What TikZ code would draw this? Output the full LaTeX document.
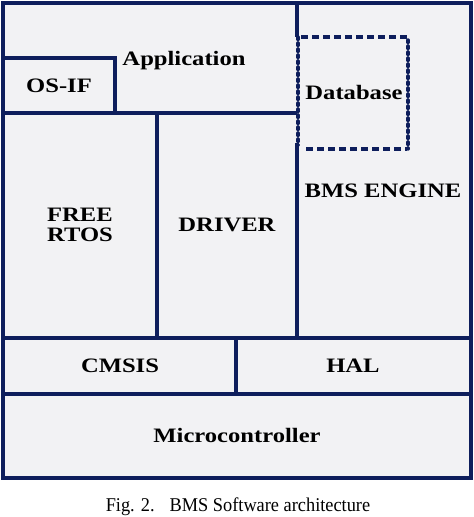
\documentclass[tikz,border=0pt]{standalone}
\usepackage{fontspec}
\newfontfamily\lblfont[FakeStretch=1.2]{Liberation Serif}
\newfontfamily\capfont[FakeStretch=0.94]{Liberation Serif}
\definecolor{navy}{RGB}{14,30,92}
\definecolor{panel}{RGB}{242,242,244}
\begin{document}
\begin{tikzpicture}[x=1pt,y=-1pt,
  wall/.style={draw=navy,line width=3.2pt},
  frame/.style={draw=navy,line width=4pt,fill=panel},
  lbl/.style={inner sep=0pt,anchor=base,font=\lblfont\bfseries\fontsize{20.5}{22}\selectfont,text=black},
  captext/.style={inner sep=0pt,anchor=base,font=\capfont\fontsize{19.5}{21}\selectfont,text=black},
  dbdash/.style={draw=navy,line width=3.2pt,dash pattern=on 7pt off 4pt},
  dbdot/.style={draw=navy,line width=3.4pt,line cap=round,dash pattern=on 2.5pt off 3.5pt}]
\useasboundingbox (0,0) rectangle (474,517);
\fill[white] (0,0) rectangle (474,517);
% outer frame
\draw[frame] (3,3) rectangle (471,478);
% internal walls
\draw[wall] (3,58) -- (115,58) -- (115,113);
\draw[wall] (3,113) -- (297,113);
\draw[wall] (297,3) -- (297,37);
\draw[wall] (297,143) -- (297,338);
\draw[wall] (157,113) -- (157,338);
\draw[wall] (3,338) -- (471,338);
\draw[wall] (236,338) -- (236,394);
\draw[wall] (3,394) -- (471,394);
% database box
\draw[dbdash] (301,37) -- (409,37);
\draw[dbdot] (408,40) -- (408,149);
\draw[dbdash] (306,149) -- (407,149);
\draw[dbdot] (298,37) -- (298,145);
% labels
\node[lbl] (app) at (184,65) {Application};
\node[lbl] (osif) at (59,92.5) {OS-IF};
\node[lbl] (db) at (354,99) {Database};
\node[lbl] (bms) at (383,197.5) {BMS ENGINE};
\node[lbl] (free) at (80,221.5) {FREE};
\node[lbl] (rtos) at (80,241.5) {RTOS};
\node[lbl] (drv) at (227,231.5) {DRIVER};
\node[lbl] (cmsis) at (120,372.5) {CMSIS};
\node[lbl] (hal) at (353,372.5) {HAL};
\node[lbl] (mcu) at (237,442.5) {Microcontroller};
\node[captext] (caption) at (238,511) {Fig. 2.\hspace{15pt}BMS Software architecture};
\end{tikzpicture}
\end{document}
